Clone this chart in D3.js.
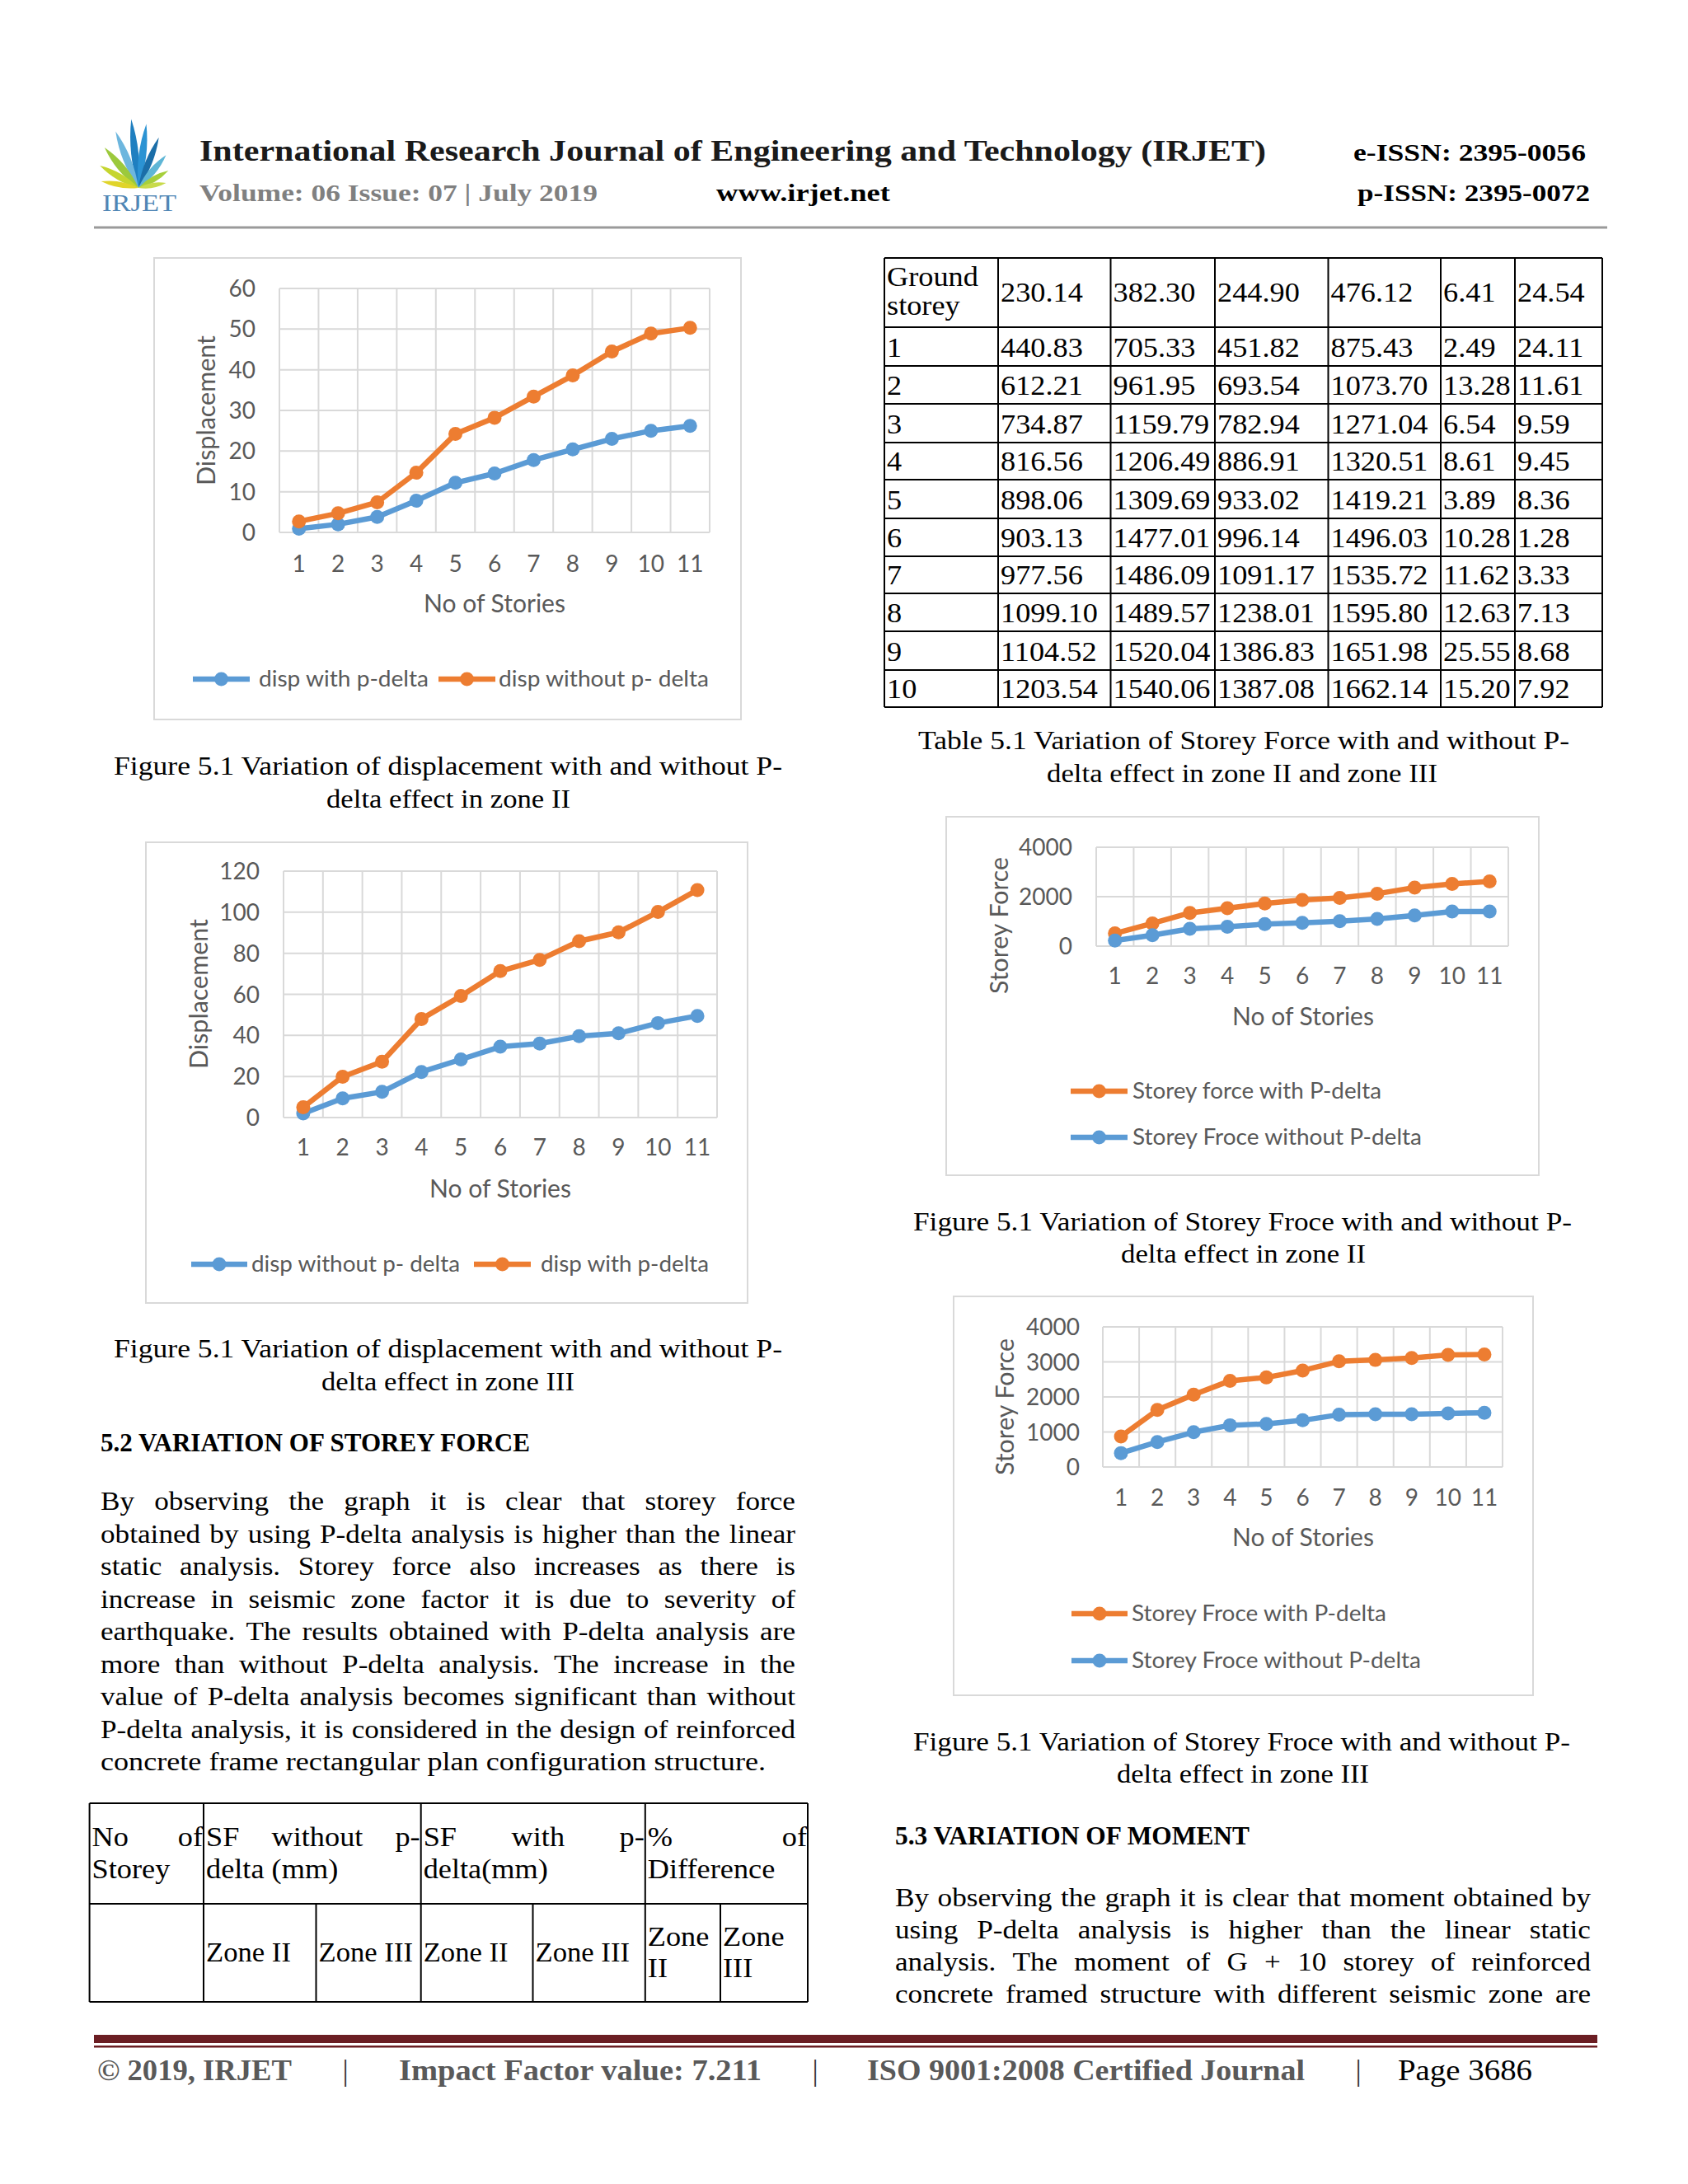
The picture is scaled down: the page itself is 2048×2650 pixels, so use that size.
<!DOCTYPE html>
<html lang="en">
<head>
<meta charset="UTF-8">
<title>IRJET Vol 06 Issue 07 - Page 3686</title>
<script src="https://d3js.org/d3.v7.min.js"></script>
<style>
  body { margin: 0; background: #fff; }
  svg { display: block; }
  .serif { font-family: "Liberation Serif", "DejaVu Serif", serif; }
  .sans { font-family: Lato, "Open Sans", sans-serif; }
</style>
</head>
<body>
<svg id="page" width="2048" height="2650"></svg>
<script>

// ------ data ------

const stories = ["1", "2", "3", "4", "5", "6", "7", "8", "9", "10", "11"];

// displacement, zone II
const dispZ2With    = [0.9, 2.0, 3.8, 7.8, 12.2, 14.5, 17.8, 20.4, 23.0, 25.0, 26.2];
const dispZ2Without = [2.7, 4.7, 7.4, 14.7, 24.2, 28.2, 33.4, 38.6, 44.5, 48.9, 50.3];

// displacement, zone III
const dispZ3Without = [2.0, 9.3, 12.5, 22.2, 28.3, 34.5, 36.0, 39.6, 41.0, 46.0, 49.5];
const dispZ3With    = [5.0, 19.9, 27.2, 48.0, 59.2, 71.3, 76.8, 85.9, 90.2, 100.1, 110.8];

// storey force, zone II
const forceZ2With    = [515, 920, 1345, 1530, 1725, 1865, 1950, 2120, 2370, 2520, 2615];
const forceZ2Without = [225, 440, 700, 785, 890, 945, 1010, 1100, 1245, 1400, 1400];

// storey force, zone III
const forceZ3With    = [873, 1627, 2064, 2461, 2556, 2754, 3016, 3056, 3111, 3199, 3214];
const forceZ3Without = [397, 714, 993, 1191, 1230, 1333, 1492, 1508, 1508, 1532, 1548];

// table 5.1
const tableStorey = ["Ground storey", "1", "2", "3", "4", "5", "6", "7", "8", "9", "10"];
const sfWithoutZ2 = [230.14, 440.83, 612.21, 734.87, 816.56, 898.06, 903.13, 977.56, 1099.10, 1104.52, 1203.54];
const sfWithoutZ3 = [382.30, 705.33, 961.95, 1159.79, 1206.49, 1309.69, 1477.01, 1486.09, 1489.57, 1520.04, 1540.06];
const sfWithZ2    = [244.90, 451.82, 693.54, 782.94, 886.91, 933.02, 996.14, 1091.17, 1238.01, 1386.83, 1387.08];
const sfWithZ3    = [476.12, 875.43, 1073.70, 1271.04, 1320.51, 1419.21, 1496.03, 1535.72, 1595.80, 1651.98, 1662.14];
const diffZ2      = [6.41, 2.49, 13.28, 6.54, 8.61, 3.89, 10.28, 11.62, 12.63, 25.55, 15.20];
const diffZ3      = [24.54, 24.11, 11.61, 9.59, 9.45, 8.36, 1.28, 3.33, 7.13, 8.68, 7.92];

const blue = "#5B9BD5";
const orange = "#ED7D31";
const grid = "#d9d9d9";
const axisText = "#595959";

const svg = d3.select("#page");
svg.append("rect").attr("width", 2048).attr("height", 2650).attr("fill", "#fff");

// ------ helpers ------

function text(g, s, x, y, o = {}) {
  const t = g.append("text")
    .attr("x", x).attr("y", y)
    .attr("class", o.cls || "serif")
    .attr("fill", o.fill || "#000")
    .style("font-size", (o.size || 31) + "px")
    .text(s);
  if (o.bold) t.style("font-weight", "bold");
  if (o.anchor) t.attr("text-anchor", o.anchor);
  if (o.dy) t.attr("dy", o.dy);
  if (o.width) {
    t.attr("textLength", o.width).attr("lengthAdjust", "spacingAndGlyphs");
  } else if (o.stretch) {
    const w = t.node().getComputedTextLength();
    t.attr("textLength", w * o.stretch).attr("lengthAdjust", "spacingAndGlyphs");
  }
  return t;
}

// spread words so the line fills the width, like justified text
function justify(g, s, x, y, w, o = {}) {
  const words = s.split(" ");
  let nodes = words.map(wd => text(g, wd, 0, y, Object.assign({ stretch: 1.1 }, o)));
  let widths = nodes.map(n => +n.attr("textLength"));
  const minGap = 7;
  const natural = d3.sum(widths) + minGap * (words.length - 1);
  if (natural > w) {
    // squeeze words a little if the line would overflow
    const k = (w - minGap * (words.length - 1)) / d3.sum(widths);
    widths = widths.map(v => v * k);
    nodes.forEach((n, i) => n.attr("textLength", widths[i]));
  }
  const gap = (w - d3.sum(widths)) / (words.length - 1);
  let cx = x;
  nodes.forEach((n, i) => { n.attr("x", cx); cx += widths[i] + gap; });
}

// ------ header ------

const logo = svg.append("g").attr("transform", "translate(168,228)");
const leaves = [
  { a: -6, l: 84, w: 9, c: "#1f7fc0" }, { a: 7, l: 78, w: 9, c: "#2b93d3" },
  { a: -22, l: 74, w: 9, c: "#6db6de" }, { a: 22, l: 66, w: 8, c: "#1b6ea8" },
  { a: -40, l: 64, w: 9, c: "#9cc93c" }, { a: 40, l: 52, w: 8, c: "#5fb6d6" },
  { a: -60, l: 54, w: 8, c: "#c5d52f" }, { a: 60, l: 42, w: 7, c: "#a6cf3a" },
  { a: -80, l: 46, w: 7, c: "#e0d42a" }, { a: 80, l: 34, w: 6, c: "#c8da4a" }
];
logo.selectAll("path").data(leaves).join("path")
  .attr("d", d => `M0,0 Q${d.w},${-d.l / 2} 0,${-d.l} Q${-d.w},${-d.l / 2} 0,0Z`)
  .attr("transform", d => `rotate(${d.a})`)
  .attr("fill", d => d.c);
text(svg, "IRJET", 124, 256, { size: 30, fill: "#4f86b5", width: 90 });

text(svg, "International Research Journal of Engineering and Technology (IRJET)", 242, 195,
  { size: 36, bold: true, width: 1294, fill: "#1a1a1a" });
text(svg, "Volume: 06 Issue: 07 | July 2019", 242, 244, { size: 30, bold: true, width: 483, fill: "#808080" });
text(svg, "www.irjet.net", 869, 244, { size: 30, bold: true, width: 211 });
text(svg, "e-ISSN: 2395-0056", 1642, 195, { size: 30, bold: true, width: 282 });
text(svg, "p-ISSN: 2395-0072", 1647, 244, { size: 30, bold: true, width: 282 });
svg.append("line").attr("x1", 114).attr("x2", 1950).attr("y1", 276).attr("y2", 276)
  .attr("stroke", "#9a9a9a").attr("stroke-width", 3);

// ------ line charts ------

function lineChart(c) {
  const g = svg.append("g");
  const [l, r, t, b] = c.plot;

  g.append("rect")
    .attr("x", c.box[0]).attr("y", c.box[1])
    .attr("width", c.box[2] - c.box[0]).attr("height", c.box[3] - c.box[1])
    .attr("fill", "#fff").attr("stroke", grid).attr("stroke-width", 2);

  const x = d3.scaleBand().domain(stories).range([l, r]);
  const y = d3.scaleLinear().domain([0, c.yMax]).range([b, t]);
  const yTicks = d3.range(0, c.yMax + 1, c.yStep);

  g.selectAll(".hgrid").data(yTicks).join("line")
    .attr("x1", l).attr("x2", r)
    .attr("y1", d => y(d)).attr("y2", d => y(d))
    .attr("stroke", grid).attr("stroke-width", 2);

  g.selectAll(".vgrid").data(stories.map(d => x(d)).concat([r])).join("line")
    .attr("x1", d => d).attr("x2", d => d)
    .attr("y1", t).attr("y2", b)
    .attr("stroke", grid).attr("stroke-width", 2);

  g.selectAll(".ylab").data(yTicks).join("text")
    .attr("class", "sans")
    .attr("x", c.yLabelX).attr("y", d => y(d)).attr("dy", "0.36em")
    .attr("text-anchor", "end").attr("fill", axisText)
    .style("font-size", "28px")
    .text(d => d);

  g.selectAll(".xlab").data(stories).join("text")
    .attr("class", "sans")
    .attr("x", d => x(d) + x.bandwidth() / 2).attr("y", c.xLabelY)
    .attr("text-anchor", "middle").attr("fill", axisText)
    .style("font-size", "28px")
    .text(d => d);

  text(g, "No of Stories", c.xTitle[0] - 86, c.xTitle[1],
    { cls: "sans", size: 30, fill: axisText, width: 172 });

  g.append("text")
    .attr("class", "sans")
    .attr("transform", `translate(${c.yTitle[0]},${c.yTitle[1]}) rotate(-90)`)
    .attr("text-anchor", "middle").attr("dy", "0.35em")
    .attr("fill", axisText).style("font-size", "30px")
    .attr("textLength", c.yTitle[2]).attr("lengthAdjust", "spacingAndGlyphs")
    .text(c.yTitleText);

  const line = d3.line()
    .x((d, i) => x(stories[i]) + x.bandwidth() / 2)
    .y(d => y(d));

  c.series.forEach(s => {
    g.append("path").datum(s.values)
      .attr("d", line).attr("fill", "none")
      .attr("stroke", s.color).attr("stroke-width", 6.5)
      .attr("stroke-linejoin", "round").attr("stroke-linecap", "round");
    g.append("g").selectAll("circle").data(s.values).join("circle")
      .attr("cx", (d, i) => x(stories[i]) + x.bandwidth() / 2)
      .attr("cy", d => y(d))
      .attr("r", 8.5).attr("fill", s.color);
  });

  c.legend.forEach(it => {
    g.append("line").attr("x1", it.m[0]).attr("x2", it.m[1])
      .attr("y1", it.y).attr("y2", it.y)
      .attr("stroke", it.color).attr("stroke-width", 6.5);
    g.append("circle").attr("cx", (it.m[0] + it.m[1]) / 2).attr("cy", it.y)
      .attr("r", 8.5).attr("fill", it.color);
    text(g, it.label, it.tx[0], it.y, { cls: "sans", size: 27, fill: axisText, dy: "0.35em", width: it.tx[1] - it.tx[0] });
  });
}

lineChart({
  box: [187, 313, 899, 873], plot: [339, 861, 350, 646],
  yMax: 60, yStep: 10, yLabelX: 310, xLabelY: 694,
  xTitle: [600, 743], yTitle: [250, 498, 182], yTitleText: "Displacement",
  series: [{ values: dispZ2With, color: blue }, { values: dispZ2Without, color: orange }],
  legend: [
    { label: "disp with p-delta", color: blue, y: 824, m: [234, 303], tx: [314, 520] },
    { label: "disp without p- delta", color: orange, y: 824, m: [532, 601], tx: [605, 860] }
  ]
});

lineChart({
  box: [177, 1022, 907, 1581], plot: [344, 870, 1057, 1356],
  yMax: 120, yStep: 20, yLabelX: 315, xLabelY: 1402,
  xTitle: [607, 1453], yTitle: [241, 1206, 182], yTitleText: "Displacement",
  series: [{ values: dispZ3Without, color: blue }, { values: dispZ3With, color: orange }],
  legend: [
    { label: "disp without p- delta", color: blue, y: 1534, m: [232, 300], tx: [305, 558] },
    { label: "disp with p-delta", color: orange, y: 1534, m: [575, 644], tx: [656, 860] }
  ]
});

lineChart({
  box: [1148, 991, 1867, 1426], plot: [1330, 1830, 1028, 1148],
  yMax: 4000, yStep: 2000, yLabelX: 1301, xLabelY: 1194,
  xTitle: [1581, 1244], yTitle: [1212, 1123, 166], yTitleText: "Storey Force",
  series: [{ values: forceZ2With, color: orange }, { values: forceZ2Without, color: blue }],
  legend: [
    { label: "Storey force with P-delta", color: orange, y: 1324, m: [1299, 1368], tx: [1374, 1676] },
    { label: "Storey Froce without P-delta", color: blue, y: 1380, m: [1299, 1368], tx: [1374, 1725] }
  ]
});

lineChart({
  box: [1157, 1573, 1860, 2057], plot: [1338, 1823, 1610, 1780],
  yMax: 4000, yStep: 1000, yLabelX: 1310, xLabelY: 1827,
  xTitle: [1581, 1876], yTitle: [1219, 1707, 166], yTitleText: "Storey Force",
  series: [{ values: forceZ3With, color: orange }, { values: forceZ3Without, color: blue }],
  legend: [
    { label: "Storey Froce with P-delta", color: orange, y: 1958, m: [1300, 1368], tx: [1373, 1682] },
    { label: "Storey Froce without P-delta", color: blue, y: 2015, m: [1300, 1368], tx: [1373, 1724] }
  ]
});

// ------ captions and body text ------

text(svg, "Figure 5.1 Variation of displacement with and without P-", 138, 940, { size: 32, width: 811 });
text(svg, "delta effect in zone II", 396, 980, { size: 32, width: 296 });
text(svg, "Figure 5.1 Variation of displacement with and without P-", 138, 1647, { size: 32, width: 811 });
text(svg, "delta effect in zone III", 390, 1687, { size: 32, width: 307 });
text(svg, "Table 5.1 Variation of Storey Force with and without P-", 1114, 909, { size: 32, width: 790 });
text(svg, "delta effect in zone II and zone III", 1270, 949, { size: 32, width: 474 });
text(svg, "Figure 5.1 Variation of Storey Froce with and without P-", 1108, 1493, { size: 32, width: 799 });
text(svg, "delta effect in zone II", 1360, 1532, { size: 32, width: 297 });
text(svg, "Figure 5.1 Variation of Storey Froce with and without P-", 1108, 2124, { size: 32, width: 797 });
text(svg, "delta effect in zone III", 1355, 2163, { size: 32, width: 306 });

text(svg, "5.2 VARIATION OF STOREY FORCE", 122, 1761, { size: 32, bold: true, width: 521 });
text(svg, "5.3 VARIATION OF MOMENT", 1086, 2238, { size: 32, bold: true, width: 430 });

const para1 = [
  "By observing the graph it is clear that storey force",
  "obtained by using P-delta analysis is higher than the linear",
  "static analysis. Storey force also increases as there is",
  "increase in seismic zone factor it is due to severity of",
  "earthquake. The results obtained with P-delta analysis are",
  "more than without P-delta analysis. The increase in the",
  "value of P-delta analysis becomes significant than without",
  "P-delta analysis, it is considered in the design of reinforced"
];
para1.forEach((s, i) => justify(svg, s, 122, 1832 + 39.5 * i, 843, { size: 32 }));
text(svg, "concrete frame rectangular plan configuration structure.", 122, 1832 + 39.5 * 8, { size: 32, width: 807 });

const para2 = [
  "By observing the graph it is clear that moment obtained by",
  "using P-delta analysis is higher than the linear static",
  "analysis. The moment of G + 10 storey of reinforced",
  "concrete framed structure with different seismic zone are"
];
para2.forEach((s, i) => justify(svg, s, 1086, 2312.5 + 39 * i, 844, { size: 32 }));

// ------ table 5.1 (continued part, top right) ------

const fmt = d3.format(".2f");
const tCols = [1073, 1211, 1347.5, 1474, 1611.5, 1748, 1838, 1944];
const tRows = [313, 397, 444, 490, 537, 582, 629, 675, 720, 766, 813, 858];
const tg = svg.append("g");

tg.selectAll(".vline").data(tCols).join("line")
  .attr("x1", d => d).attr("x2", d => d).attr("y1", tRows[0]).attr("y2", tRows[tRows.length - 1])
  .attr("stroke", "#000").attr("stroke-width", 2);
tg.selectAll(".hline").data(tRows).join("line")
  .attr("x1", tCols[0]).attr("x2", tCols[tCols.length - 1]).attr("y1", d => d).attr("y2", d => d)
  .attr("stroke", "#000").attr("stroke-width", 2);

const columns = [sfWithoutZ2, sfWithoutZ3, sfWithZ2, sfWithZ3, diffZ2, diffZ3];
tableStorey.forEach((lab, i) => {
  const base = i === 0 ? 366 : tRows[i + 1] - 11;
  if (i === 0) {
    text(tg, "Ground", tCols[0] + 3, 347, { size: 33, stretch: 1.1 });
    text(tg, "storey", tCols[0] + 3, 382, { size: 33, stretch: 1.1 });
  } else {
    text(tg, lab, tCols[0] + 3, base, { size: 33, stretch: 1.1 });
  }
  columns.forEach((col, j) => {
    text(tg, fmt(col[i]), tCols[j + 1] + 3, base, { size: 33, stretch: 1.1 });
  });
});

// ------ table 5.1 header (bottom left) ------

const hCols = [108.6, 247, 383.5, 510.7, 646.5, 782.8, 874, 980];
const hRows = [2188, 2310, 2429];
const hg = svg.append("g");
const stroke = sel => sel.attr("stroke", "#000").attr("stroke-width", 2);

hg.selectAll(".h").data(hRows).join("line")
  .attr("x1", hCols[0]).attr("x2", hCols[7]).attr("y1", d => d).attr("y2", d => d).call(stroke);
hg.selectAll(".v1").data([0, 1, 3, 5, 7]).join("line")
  .attr("x1", d => hCols[d]).attr("x2", d => hCols[d]).attr("y1", hRows[0]).attr("y2", hRows[1]).call(stroke);
hg.selectAll(".v2").data(hCols).join("line")
  .attr("x1", d => d).attr("x2", d => d).attr("y1", hRows[1]).attr("y2", hRows[2]).call(stroke);

justify(hg, "No of", hCols[0] + 3, 2240, hCols[1] - hCols[0] - 4, { size: 33 });
text(hg, "Storey", hCols[0] + 3, 2279, { size: 33, stretch: 1.1 });
justify(hg, "SF without p-", hCols[1] + 3, 2240, hCols[3] - hCols[1] - 4, { size: 33 });
text(hg, "delta (mm)", hCols[1] + 3, 2279, { size: 33, stretch: 1.1 });
justify(hg, "SF with p-", hCols[3] + 3, 2240, hCols[5] - hCols[3] - 4, { size: 33 });
text(hg, "delta(mm)", hCols[3] + 3, 2279, { size: 33, stretch: 1.1 });
justify(hg, "% of", hCols[5] + 3, 2240, hCols[7] - hCols[5] - 4, { size: 33 });
text(hg, "Difference", hCols[5] + 3, 2279, { size: 33, stretch: 1.1 });

["Zone II", "Zone III", "Zone II", "Zone III"].forEach((s, j) => {
  text(hg, s, hCols[j + 1] + 3, 2380, { size: 33, stretch: 1.05 });
});
text(hg, "Zone", hCols[5] + 3, 2361, { size: 33, stretch: 1.1 });
text(hg, "II", hCols[5] + 3, 2399, { size: 33, stretch: 1.1 });
text(hg, "Zone", hCols[6] + 3, 2361, { size: 33, stretch: 1.1 });
text(hg, "III", hCols[6] + 3, 2399, { size: 33, stretch: 1.1 });

// ------ footer ------

svg.append("rect").attr("x", 114).attr("y", 2469).attr("width", 1824).attr("height", 10).attr("fill", "#6b1e23");
svg.append("rect").attr("x", 114).attr("y", 2482).attr("width", 1824).attr("height", 2.5).attr("fill", "#6b1e23");

text(svg, "© 2019, IRJET", 118, 2524, { size: 36, bold: true, fill: "#595959", width: 236 });
text(svg, "|", 419, 2524, { size: 36, fill: "#333", anchor: "middle" });
text(svg, "Impact Factor value: 7.211", 484, 2524, { size: 36, bold: true, fill: "#595959", width: 440 });
text(svg, "|", 989, 2524, { size: 36, fill: "#333", anchor: "middle" });
text(svg, "ISO 9001:2008 Certified Journal", 1052, 2524, { size: 36, bold: true, fill: "#595959", width: 531 });
text(svg, "|", 1648, 2524, { size: 36, fill: "#333", anchor: "middle" });
text(svg, "Page 3686", 1696, 2524, { size: 36, fill: "#000", width: 163 });

</script>
</body>
</html>
